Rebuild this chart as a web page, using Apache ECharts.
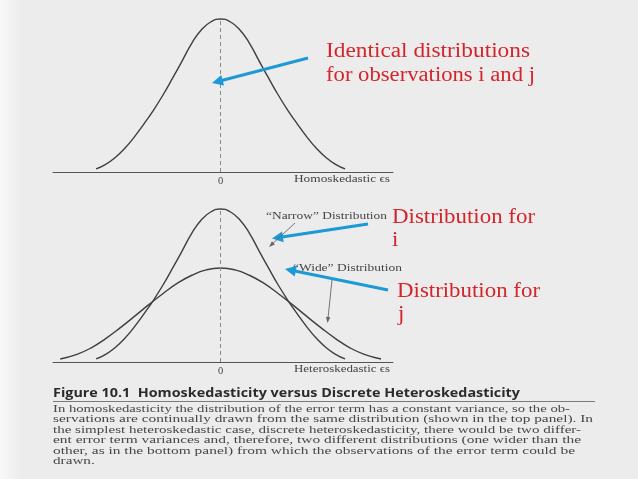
<!DOCTYPE html>
<html><head><meta charset="utf-8">
<script src="https://cdn.jsdelivr.net/npm/echarts@6/dist/echarts.min.js"></script>
<style>html,body{margin:0;padding:0;background:#ececec}#c{width:638px;height:479px}</style>
</head><body><div id="c"></div>
<script>
// ---- data (x in error units, y relative to narrow peak height) ----
const xNarrow = [-2.6,-2.4,-2.2,-2.0,-1.8,-1.6,-1.4,-1.2,-1.0,-0.8,-0.6,-0.4,-0.2,0,0.2,0.4,0.6,0.8,1.0,1.2,1.4,1.6,1.8,2.0,2.2,2.4,2.6];
const yHomo   = [0.02,0.05,0.095,0.155,0.23,0.315,0.405,0.505,0.615,0.728,0.843,0.93,0.982,1.0,0.982,0.93,0.843,0.728,0.615,0.505,0.405,0.315,0.23,0.155,0.095,0.05,0.02];
const yNarrow = [0.02,0.05,0.095,0.155,0.23,0.315,0.405,0.505,0.615,0.728,0.843,0.93,0.982,1.0,0.982,0.93,0.843,0.728,0.615,0.505,0.405,0.315,0.23,0.155,0.095,0.05,0.02];
const xWide   = [-3.35,-3.0,-2.7,-2.4,-2.1,-1.8,-1.5,-1.2,-0.9,-0.6,-0.3,0,0.3,0.6,0.9,1.2,1.5,1.8,2.1,2.4,2.7,3.0,3.35];
const yWide   = [0.02,0.05,0.093,0.153,0.223,0.298,0.375,0.448,0.515,0.567,0.602,0.614,0.602,0.567,0.515,0.448,0.375,0.298,0.223,0.153,0.093,0.05,0.02];
const tickLabel = '0';
const axisNames = ['Homoskedastic \u03f5s', 'Heteroskedastic \u03f5s'];
const curveLabels = ['\u201cNarrow\u201d Distribution', '\u201cWide\u201d Distribution'];
const redNotes = ['Identical distributions', 'for observations i and j', 'Distribution for', 'i', 'Distribution for', 'j'];
const captionTitle = 'Figure 10.1  Homoskedasticity versus Discrete Heteroskedasticity';
const captionLines = [
  'In homoskedasticity the distribution of the error term has a constant variance, so the ob-',
  'servations are continually drawn from the same distribution (shown in the top panel). In',
  'the simplest heteroskedastic case, discrete heteroskedasticity, there would be two differ-',
  'ent error term variances and, therefore, two different distributions (one wider than the',
  'other, as in the bottom panel) from which the observations of the error term could be',
  'drawn.'
];

const zip = (xs, ys) => xs.map((x, i) => [x, ys[i]]);
const SERIF = "'Liberation Serif','DejaVu Serif',serif";
const ctx = document.createElement('canvas').getContext('2d');
function measure(t, font) { ctx.font = font; return ctx.measureText(t).width; }
function txt(t, x, base, width, size, family, weight, color, sxOverride) {
  const font = (weight || 'normal') + ' ' + size + 'px ' + family;
  const sx = sxOverride || (width ? width / measure(t, font) : 1);
  return { el: { type: 'text', x: x, y: base - 0.34 * size, scaleX: sx, originX: 0, originY: 0, silent: true, z: 20,
    style: { text: t, font: font, fill: color, textAlign: 'left', textVerticalAlign: 'middle', align: 'left', verticalAlign: 'middle' } }, sx: sx };
}
function arrow(x1, y1, x2, y2, color, lw, hl, hw) {
  const dx = x2 - x1, dy = y2 - y1, L = Math.hypot(dx, dy), ux = dx / L, uy = dy / L;
  const bx = x2 - ux * hl, by = y2 - uy * hl, px = -uy, py = ux;
  return [
    { type: 'line', silent: true, z: 20, shape: { x1: x1, y1: y1, x2: bx + ux, y2: by + uy }, style: { stroke: color, lineWidth: lw } },
    { type: 'polygon', silent: true, z: 20, shape: { points: [[x2, y2], [bx + px * hw, by + py * hw], [bx - px * hw, by - py * hw]] }, style: { fill: color } }
  ];
}

const RED = '#d3252b', BLUE = '#1d99d6', INK = '#444444';
const g = [];
g.push({ type: 'rect', silent: true, z: 0, shape: { x: 0, y: 0, width: 22, height: 479 },
  style: { fill: new echarts.graphic.LinearGradient(0, 0, 1, 0, [{ offset: 0, color: '#f8f8f8' }, { offset: 1, color: '#ececec' }]) } });
// red annotations
const r1 = txt(redNotes[0], 326, 59, 204, 20.5, SERIF, 'normal', RED);
const r2 = txt(redNotes[1], 326, 82.5, 209, 20.5, SERIF, 'normal', RED);
const r3 = txt(redNotes[2], 392, 224.5, 143, 21, SERIF, 'normal', RED);
const r4 = txt(redNotes[3], 392, 248, 0, 21, SERIF, 'normal', RED, r3.sx);
const r5 = txt(redNotes[4], 397, 298.5, 143, 21, SERIF, 'normal', RED);
const r6 = txt(redNotes[5], 398, 322, 0, 21, SERIF, 'normal', RED, r5.sx);
[r1, r2, r3, r4, r5, r6].forEach(o => g.push(o.el));
// small book labels
g.push(txt(axisNames[0], 294, 183, 96, 10.5, SERIF, 'normal', INK).el);
g.push(txt(axisNames[1], 294, 372.5, 96, 10.5, SERIF, 'normal', INK).el);
g.push(txt(curveLabels[0], 266, 220, 121, 10.5, SERIF, 'normal', INK).el);
g.push(txt(curveLabels[1], 293, 271.5, 109, 10.5, SERIF, 'normal', INK).el);
// arrows
g.push(...arrow(308, 58, 212, 83, BLUE, 3, 11, 5.5));
g.push(...arrow(368, 224, 272, 238.5, BLUE, 3, 11, 5.5));
g.push(...arrow(388, 290, 285, 269, BLUE, 3, 11, 5.5));
g.push(...arrow(295, 223, 269, 247, '#666', 0.9, 6, 2.2));
g.push(...arrow(332, 280, 327.5, 323, '#666', 0.9, 6, 2.2));
// caption
g.push(txt(captionTitle, 53, 398, 467, 12.5, "'Open Sans','DejaVu Sans',sans-serif", 'bold', '#2b2b2b').el);
g.push({ type: 'line', silent: true, z: 20, shape: { x1: 53, y1: 401.5, x2: 595, y2: 401.5 }, style: { stroke: '#7a7a7a', lineWidth: 1 } });
const ends = [570, 593, 581, 581, 575];
const bases = [412.7, 423.1, 433.5, 443.9, 454.3, 464.7];
let sxs = [];
captionLines.forEach((t, i) => {
  let o;
  if (i < ends.length) { o = txt(t, 53, bases[i], ends[i] - 53, 10.3, SERIF, 'normal', '#474747'); sxs.push(o.sx); }
  else { o = txt(t, 53, bases[i], 0, 10.3, SERIF, 'normal', '#474747', sxs.reduce((a, b) => a + b, 0) / sxs.length); }
  g.push(o.el);
});

function xAx(gi) {
  return { type: 'value', gridIndex: gi, min: -3.5, max: 3.6, interval: 0.5,
    axisLine: { show: true, onZero: false, lineStyle: { color: '#555', width: 1 } },
    axisTick: { show: false }, splitLine: { show: false }, showMaxLabel: false,
    axisLabel: { margin: 4, color: INK, fontFamily: SERIF, fontSize: 10.5, formatter: v => Math.abs(v) < 1e-9 ? tickLabel : '' } };
}
const dash = { silent: true, symbol: ['none', 'none'], label: { show: false },
  lineStyle: { type: [4, 3], color: '#8a8a8a', width: 1 }, data: [[{ coord: [0, 0] }, { coord: [0, 1] }]] };
const curve = { type: 'line', smooth: true, showSymbol: false, clip: false, silent: true,
  lineStyle: { color: '#3f3f3f', width: 1.4 } };

const chart = echarts.init(document.getElementById('c'), null, { renderer: 'canvas' });
chart.setOption({
  backgroundColor: '#ececec',
  animation: false,
  grid: [
    { left: 53, width: 340, top: 19, height: 153 },
    { left: 53, width: 340, top: 209, height: 153 }
  ],
  xAxis: [xAx(0), xAx(1)],
  yAxis: [
    { type: 'value', gridIndex: 0, min: 0, max: 1, show: false },
    { type: 'value', gridIndex: 1, min: 0, max: 1, show: false }
  ],
  series: [
    Object.assign({}, curve, { name: 'Homoskedastic', xAxisIndex: 0, yAxisIndex: 0, data: zip(xNarrow, yHomo), markLine: dash }),
    Object.assign({}, curve, { name: 'Narrow', xAxisIndex: 1, yAxisIndex: 1, data: zip(xNarrow, yNarrow), markLine: dash }),
    Object.assign({}, curve, { name: 'Wide', xAxisIndex: 1, yAxisIndex: 1, data: zip(xWide, yWide) })
  ],
  graphic: { elements: g }
});
</script></body></html>
